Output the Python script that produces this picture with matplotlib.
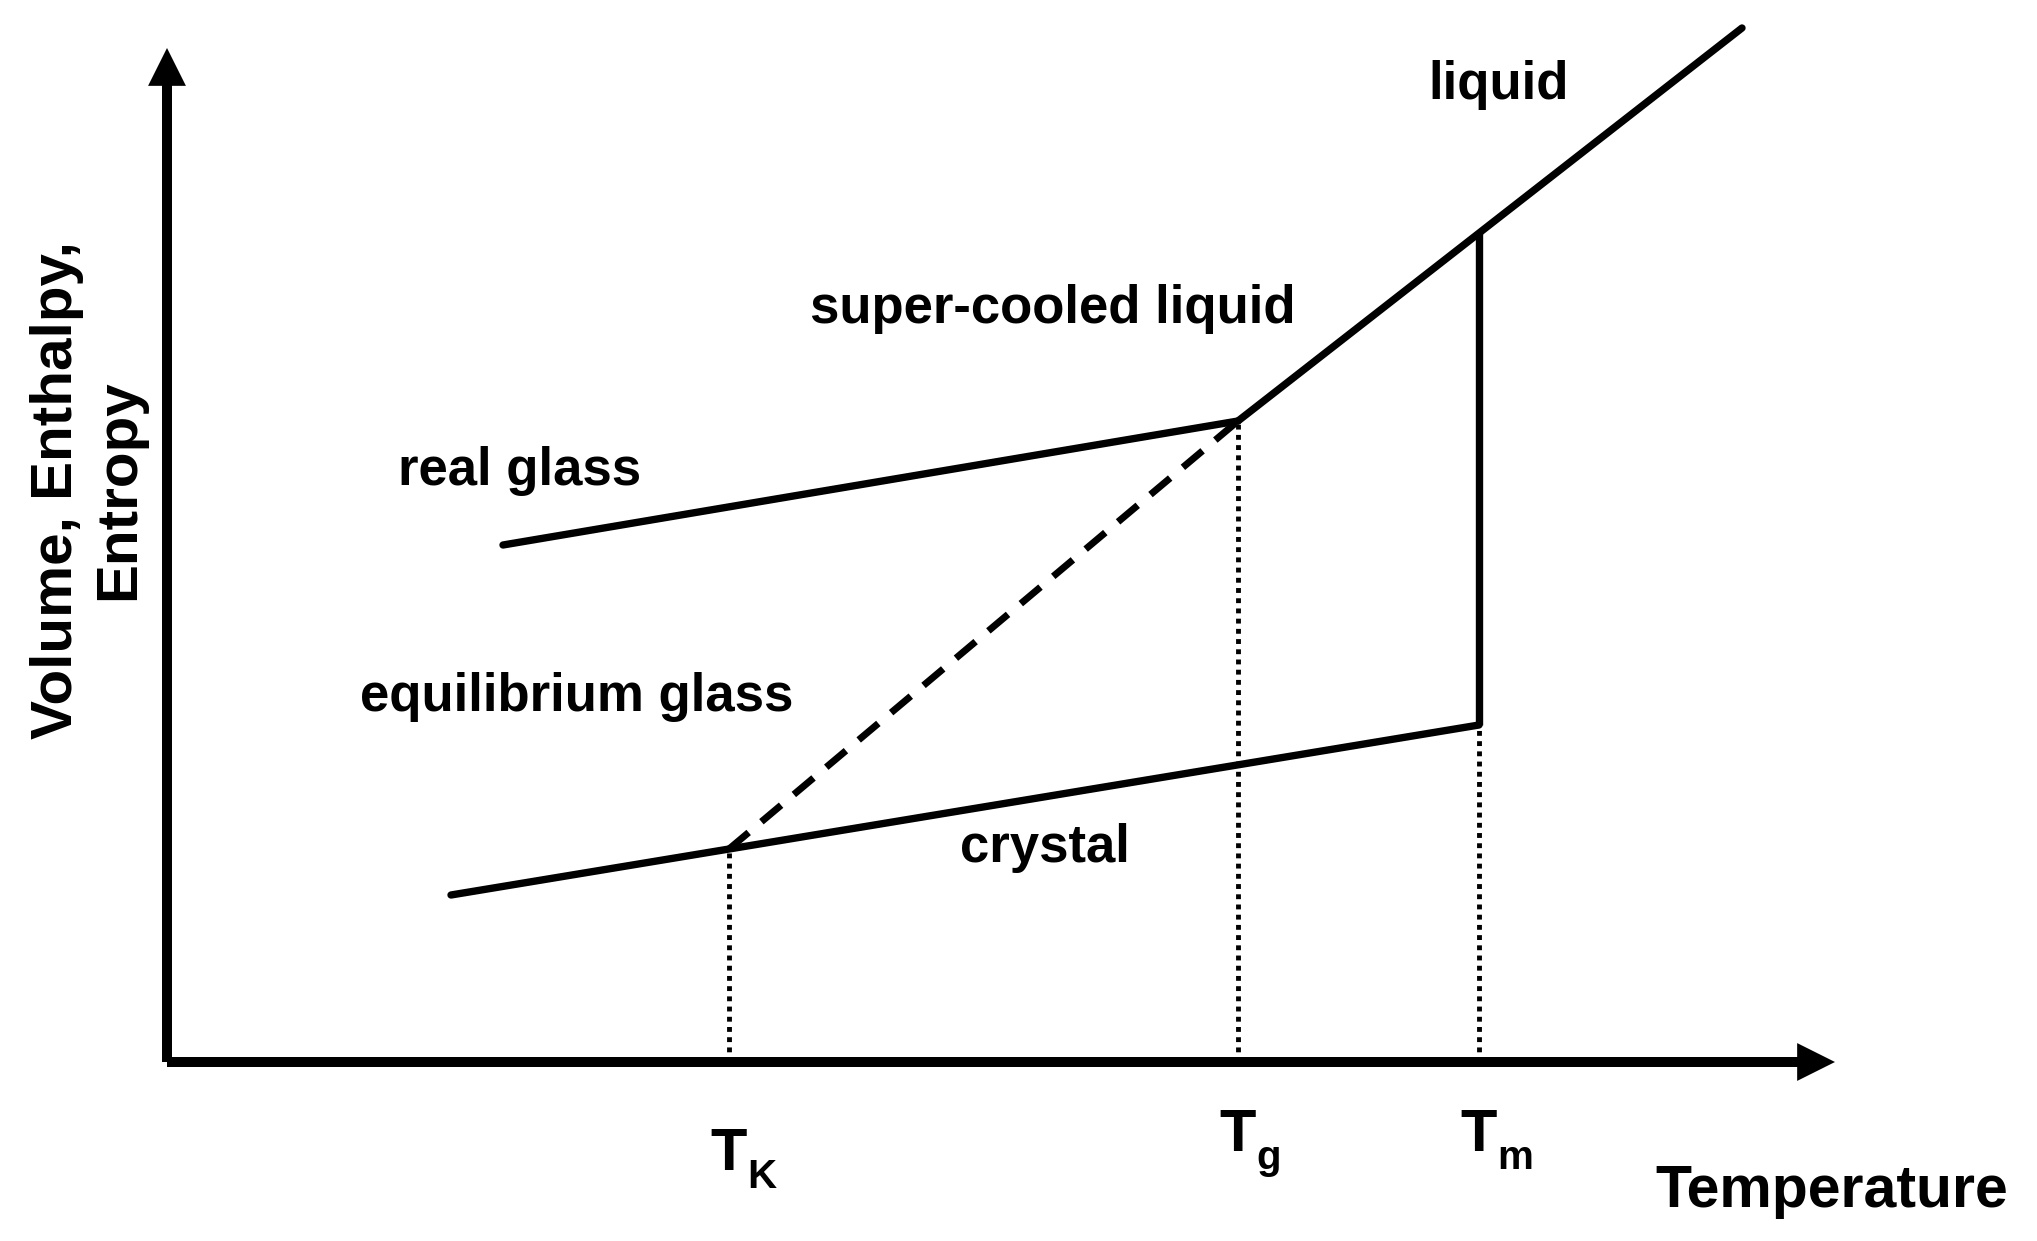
import matplotlib
matplotlib.use("Agg")
from matplotlib import pyplot as plt

plt.rcParams["font.family"] = ["Liberation Sans", "DejaVu Sans"]
plt.rcParams["font.weight"] = "bold"

# characteristic temperatures (arbitrary units)
T_K = 5.62
T_g = 10.71
T_m = 13.12

# branches of the V/H/S vs T diagram
crystal_T = [2.84, T_m]
crystal_V = [1.67, 3.37]
liquid_T = [T_g, 15.75]
liquid_V = [6.41, 10.34]
glass_T = [3.36, T_g]
glass_V = [5.17, 6.41]
eq_glass_T = [T_K, T_g]
eq_glass_V = [2.13, 6.41]
melt_T = [T_m, T_m]
melt_V = [3.37, 8.29]

drop_T = [T_K, T_g, T_m]
drop_V = [2.13, 6.41, 3.37]
sub_labels = ["K", "g", "m"]

x_end = 16.68
y_end = 10.14

fig = plt.figure(figsize=(20.37, 12.41), dpi=100)
ax = fig.add_axes([0, 0, 1, 1])
ax.set_xlim(-1.67, 18.70)
ax.set_ylim(-1.79, 10.62)
ax.axis("off")

# axes with arrows
for tip in [(x_end, 0), (0, y_end)]:
    ax.annotate("", xy=tip, xytext=(0, 0),
                arrowprops=dict(arrowstyle="-|>,head_length=0.6,head_width=0.3",
                                lw=7.2, color="black", shrinkA=0, shrinkB=0,
                                mutation_scale=26, capstyle="butt",
                                joinstyle="miter"))

lw = 5.3
ax.plot(crystal_T, crystal_V, color="black", lw=lw, solid_capstyle="round")
ax.plot(liquid_T, liquid_V, color="black", lw=lw, solid_capstyle="round")
ax.plot(glass_T, glass_V, color="black", lw=lw, solid_capstyle="round")
ax.plot(melt_T, melt_V, color="black", lw=lw, solid_capstyle="butt")
ax.plot(eq_glass_T, eq_glass_V, color="black", lw=5.0, linestyle=(0, (3.7, 2.4)),
        dash_capstyle="butt")

for t, v in zip(drop_T, drop_V):
    ax.plot([t, t], [0, v], color="black", lw=3.5, linestyle=(0, (1, 1.1)),
            dash_capstyle="butt")

# text labels
fs = 38
ax.text(13.32, 9.63, "liquid", fontsize=fs, fontweight="bold", ha="center", va="baseline")
ax.text(8.86, 7.385, "super-cooled liquid", fontsize=fs, fontweight="bold", ha="center", va="baseline")
ax.text(3.53, 5.77, "real glass", fontsize=fs, fontweight="bold", ha="center", va="baseline")
ax.text(4.10, 3.51, "equilibrium glass", fontsize=fs, fontweight="bold", ha="center", va="baseline")
ax.text(8.78, 2.00, "crystal", fontsize=fs, fontweight="bold", ha="center", va="baseline")

# temperature marks below the axis
t_base = [-1.08, -0.89, -0.89]
for t, sub, yb in zip(drop_T, sub_labels, t_base):
    ax.text(t, yb, "T", fontsize=43, fontweight="bold", ha="center", va="baseline")
    ax.text(t + 0.18, yb - 0.18, sub, fontsize=29, fontweight="bold", ha="left", va="baseline")

ax.text(14.88, -1.45, "Temperature", fontsize=42.5, fontweight="bold", ha="left", va="baseline")
ax.text(-0.79, 5.72, "Volume, Enthalpy,\nEntropy", fontsize=42, fontweight="bold",
        rotation=90, ha="center", va="center", multialignment="center")

plt.savefig("out.png", dpi=100)
